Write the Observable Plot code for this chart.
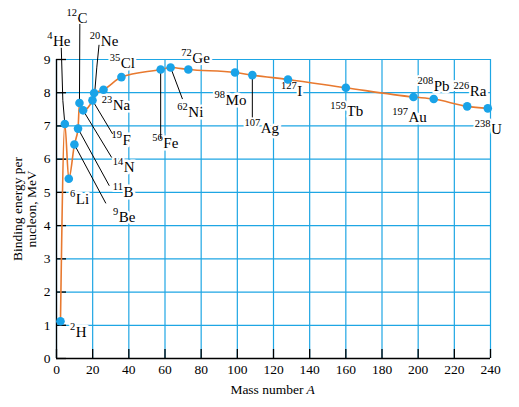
<!DOCTYPE html>
<html>
<head>
<meta charset="utf-8">
<script src="https://cdn.jsdelivr.net/npm/d3@7"></script>
<script src="https://cdn.jsdelivr.net/npm/@observablehq/plot@0.6"></script>
<style>
  body { margin: 0; background: white; }
  #chart svg { display: block; }
  #chart svg text { font-family: "Liberation Serif", serif !important; }
</style>
</head>
<body>
<div id="chart"></div>
<script>
// nuclides on the curve
const mass   = [2, 4, 6, 9, 11, 12, 14, 19, 20, 23, 35, 56, 62, 72, 98, 107, 127, 159, 197, 208, 226, 238];
const symbol = ["H","He","Li","Be","B","C","N","F","Ne","Na","Cl","Fe","Ni","Ge","Mo","Ag","I","Tb","Au","Pb","Ra","U"];
const massX  = [2.2, 4.6, 6.8, 9.9, 11.9, 12.7, 14.7, 19.9, 20.8, 26, 35.9, 57.6, 63.1, 72.9, 98.7, 108.3, 128, 160, 197.4, 208.6, 227.1, 238.5];
const energy = [1.12, 7.06, 5.41, 6.44, 6.92, 7.69, 7.47, 7.77, 7.99, 8.09, 8.47, 8.70, 8.76, 8.70, 8.61, 8.53, 8.40, 8.15, 7.87, 7.81, 7.59, 7.53];

// where each label sits (left edge of symbol, baseline)
const labelX = [10.7, -2.0, 10.7, 34.4, 37.0, 11.6, 37.2, 36.5, 24.5, 31.1, 35.5, 59.1, 72.9, 75.1, 93.5, 112.9, 133.1, 160.4, 194.6, 208.6, 228.5, 240.3];
const labelY = [0.66, 9.40, 4.64, 4.10, 4.85, 10.09, 5.60, 6.42, 9.40, 7.47, 8.73, 6.33, 7.26, 8.89, 7.62, 6.78, 7.89, 7.29, 7.11, 8.04, 7.89, 6.75];

// leader lines from labels to points
const leaderName = ["He","He","He","C","C","Ne","Ne","Ne","Ne","F","F","N","N","B","B","Be","Be","Fe","Fe","Ni","Ni","Ag","Ag"];
const leaderX    = [2.65, 3.5, 4.6, 12.9, 12.7, 23.5, 22.3, 21.2, 20.8, 30.9, 19.9, 30.4, 14.7, 29.1, 11.9, 27.2, 9.9, 57.6, 57.6, 63.1, 69.6, 108.3, 108.3];
const leaderY    = [9.34, 7.77, 7.06, 10.06, 7.69, 9.43, 8.77, 8.05, 7.99, 6.77, 7.77, 6.06, 7.47, 5.21, 6.92, 4.68, 6.44, 8.70, 6.62, 8.76, 7.82, 8.53, 7.27];

const xTicks = [0, 20, 40, 60, 80, 100, 120, 140, 160, 180, 200, 220, 240];
const yTicks = [0, 1, 2, 3, 4, 5, 6, 7, 8, 9];

const points = mass.map((m, i) => ({m, sym: symbol[i], a: massX[i], e: energy[i], lx: labelX[i], ly: labelY[i]}));
const leaders = leaderName.map((n, i) => ({n, x: leaderX[i], y: leaderY[i]}));

const gridBlue = "#1ea6e4";
const dotBlue = "#1aa3e8";
const orange = "#e8792f";
const serif = "Liberation Serif";

const chart = Plot.plot({
  width: 519,
  height: 407,
  marginLeft: 56,
  marginRight: 29,
  marginTop: 59,
  marginBottom: 49,
  style: {fontFamily: serif, fontSize: "13.5px", background: "white", color: "black"},
  x: {domain: [0, 240], ticks: xTicks, tickSize: 0, tickPadding: 6, label: null},
  y: {domain: [0, 9], ticks: yTicks, tickSize: 0, tickPadding: 6, label: null},
  marks: [
    Plot.ruleX(xTicks, {stroke: gridBlue, strokeWidth: 1.2}),
    Plot.ruleY(yTicks, {stroke: gridBlue, strokeWidth: 1.2}),
    // white-backed labels
    Plot.text(points, {x: "lx", y: "ly", text: "sym", textAnchor: "start", lineAnchor: "bottom",
      fontSize: 15, fill: "black", stroke: "white", strokeWidth: 5}),
    Plot.text(points, {x: "lx", y: "ly", text: d => String(d.m), textAnchor: "end", lineAnchor: "bottom",
      dy: -7, dx: -0.5, fontSize: 10.5, fill: "black", stroke: "white", strokeWidth: 4}),
    // axes lines and inward ticks
    Plot.ruleX([0], {stroke: "black", strokeWidth: 1.3}),
    Plot.ruleY([0], {stroke: "black", strokeWidth: 1.3}),
    Plot.ruleX(xTicks, {stroke: "black", strokeWidth: 1.3, insetTop: 290}),
    Plot.ruleY(yTicks, {stroke: "black", strokeWidth: 1.3, insetRight: 424}),
    Plot.line(leaders, {x: "x", y: "y", z: "n", stroke: "black", strokeWidth: 1}),
    Plot.line(points, {x: "a", y: "e", stroke: orange, strokeWidth: 1.6, curve: "monotone-x"}),
    Plot.dot(points, {x: "a", y: "e", r: 4.3, fill: dotBlue}),
    // axis titles
    Plot.text(["Binding energy per\nnucleon, MeV"], {frameAnchor: "left", rotate: -90, dx: -32,
      textAnchor: "middle", lineAnchor: "middle", lineHeight: 1.05, fontSize: 13.5}),
    Plot.text(["Mass number"], {frameAnchor: "bottom", textAnchor: "end", lineAnchor: "middle",
      dx: 30, dy: 31, fontSize: 13.5}),
    Plot.text(["A"], {frameAnchor: "bottom", textAnchor: "start", lineAnchor: "middle",
      dx: 33, dy: 31, fontSize: 13.5, fontStyle: "italic"})
  ]
});

d3.select("#chart").append(() => chart);
</script>
</body>
</html>
